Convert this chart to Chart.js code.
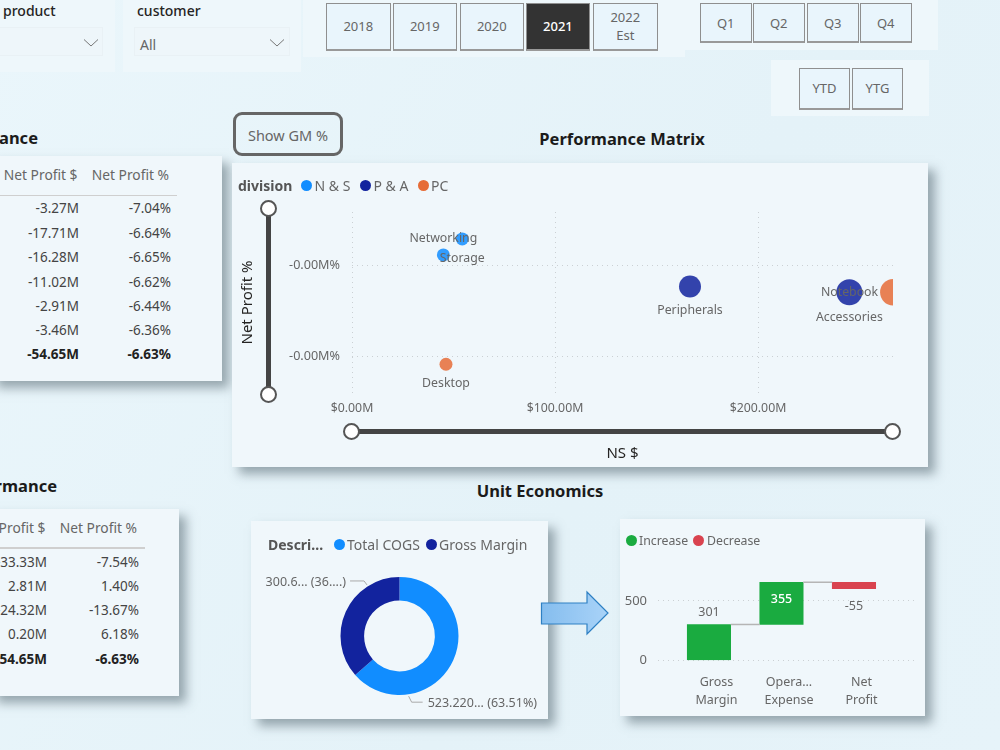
<!DOCTYPE html>
<html><head><meta charset="utf-8">
<script src="https://cdn.jsdelivr.net/npm/chart.js@4/dist/chart.umd.js"></script>
<style>
html,body{margin:0;padding:0;background:#E6F3F9;}
#page{position:relative;width:1000px;height:750px;overflow:hidden;background:linear-gradient(120deg,#EAF6FB 0%,#E4F2F8 60%,#E6F3F9 100%);font-family:"Noto Sans",sans-serif;color:#666;}
.box{position:absolute;box-sizing:border-box;}
.panel{background:#F0F7FB;box-shadow:7px 7px 10px rgba(70,90,100,.5);}
.slicer{background:#EEF7FB;}
.btn{position:absolute;box-sizing:border-box;border:1.5px solid #8f8f8f;border-bottom:2px solid #999;background:#E9F5FC;color:#666;font-size:13px;display:flex;align-items:center;justify-content:center;text-align:center;line-height:18px;}
.btn.on{background:#333;color:#fff;font-weight:500;}
.t{position:absolute;white-space:nowrap;line-height:1;}
.dot{position:absolute;border-radius:50%;}
canvas{position:absolute;display:block;}
.knob{position:absolute;box-sizing:border-box;width:17px;height:17px;border-radius:50%;background:#fff;border:2.5px solid #555;}
.rail{position:absolute;background:#444;}
</style></head>
<body><div id="page"></div>
<script>
// ---------- data ----------
const yearButtons = ['2018','2019','2020','2021','2022\nEst'];
const quarterButtons = ['Q1','Q2','Q3','Q4'];
const periodButtons = ['YTD','YTG'];

const divisions = ['N & S','P & A','PC'];
const products = ['Networking','Storage','Desktop','Peripherals','Accessories','Notebook'];
const productDivision = ['N & S','N & S','PC','P & A','P & A','PC'];
const netSalesM = [45,54.3,46.3,166.5,245,266.7];
const netProfitShare = [-0.0441,-0.0353,-0.1042,-0.0615,-0.0646,-0.0646];
const bubbleMeasure = [42,42,42,121,169,177];
const xTickValues = [0,100,200];
const xTickLabels = ['$0.00M','$100.00M','$200.00M'];
const yTickValues = [-0.05,-0.10];
const yTickLabels = ['-0.00M%','-0.00M%'];

const donutLabels = ['Total COGS','Gross Margin'];
const donutValues = [523.22,300.6];
const donutText = ['523.220... (63.51%)','300.6... (36....)'];

const waterfallCategories = ['Gross Margin','Opera... Expense','Net Profit'];
const waterfallTickLines = [['Gross','Margin'],['Opera...','Expense'],['Net','Profit']];
const waterfallDeltas = [301,355,-55];
const waterfallYTicks = [0,500];

const table1Header = ['Net Profit $','Net Profit %'];
const table1Dollar = ['-3.27M','-17.71M','-16.28M','-11.02M','-2.91M','-3.46M','-54.65M'];
const table1Pct = ['-7.04%','-6.64%','-6.65%','-6.62%','-6.44%','-6.36%','-6.63%'];
const table2Header = ['Net Profit $','Net Profit %'];
const table2Dollar = ['-33.33M','2.81M','-24.32M','0.20M','-54.65M'];
const table2Pct = ['-7.54%','1.40%','-13.67%','6.18%','-6.63%'];

// ---------- styles ----------
const FONT = '"Noto Sans", sans-serif';
const divisionColor = {'N & S':'#118DFF','P & A':'#12239E','PC':'#E66C37'};
const alpha = {'N & S':'rgba(17,141,255,.85)','P & A':'rgba(18,35,158,.85)','PC':'rgba(230,108,55,.85)'};
const labelPlacement = {Networking:'above',Storage:'below',Desktop:'below',Peripherals:'below',Accessories:'below',Notebook:'left'};

// ---------- page helpers ----------
const page = document.getElementById('page');
function box(cls,x,y,w,h,css){const d=document.createElement('div');d.className=cls;Object.assign(d.style,{left:x+'px',top:y+'px',width:w+'px',height:h+'px'},css||{});page.appendChild(d);return d;}
function text(str,x,cy,o){o=o||{};const d=document.createElement('div');d.className='t';d.textContent=str;
  const tx={l:'0',c:'-50%',r:'-100%'}[o.a||'l'];
  Object.assign(d.style,{left:x+'px',top:(cy+0.7)+'px',fontSize:(o.s||13)+'px',color:o.c||'#666',fontWeight:o.w||400,transform:`translate(${tx},-50%)`+(o.rot?` rotate(${o.rot}deg)`:'')});
  page.appendChild(d);return d;}
function chevron(cx,cy){const s=document.createElementNS('http://www.w3.org/2000/svg','svg');s.setAttribute('width','18');s.setAttribute('height','10');s.style.cssText=`position:absolute;left:${cx-9}px;top:${cy-5}px`;s.innerHTML='<path d="M2 1.5 L9 8 L16 1.5" fill="none" stroke="#777" stroke-width="1"/>';page.appendChild(s);}
function legend(items,y){items.forEach(i=>{ if(i.color) box('dot',i.x-5.5,y-5.5,11,11,{background:i.color}); text(i.label,i.tx,y,{s:i.s||14,c:i.c||'#666',w:i.w});});}
function table(hdr,dollar,pct,o){
  text(hdr[0],o.c1-1.5,o.hy,{a:'r',s:13.8,c:'#666'});
  text(hdr[1],o.c2-2,o.hy,{a:'r',s:13.8,c:'#666'});
  box('box',0,o.ly,o.lx,1.5,{background:'#CFCFCF'});
  dollar.forEach((v,i)=>{const b=i===dollar.length-1;const y=o.rows[i];
    text(v,o.c1,y,{a:'r',s:13.5,c:b?'#222':'#444',w:b?700:400});
    text(pct[i],o.c2,y,{a:'r',s:13.5,c:b?'#222':'#444',w:b?700:400});});
}

// ---------- slicers and buttons ----------
box('box slicer',-5,0,120,72);
box('box slicer',123,0,178,72);
box('box slicer',303,0,382,57);
box('box slicer',685,0,253,50);
box('box slicer',771,60,158,56);
text('product',3,10,{s:14,c:'#252423',w:500});
text('customer',137,10,{s:14,c:'#252423',w:500});
box('box',-5,27,108,29,{background:'#EEF6FA',border:'1px solid #E9F1F5'});
box('box',134,27,156,29,{background:'#EEF6FA',border:'1px solid #E9F1F5'});
text('All',140,44,{s:14,c:'#666'});
chevron(91,43);chevron(277,43);
const yearX=[326,392.5,459.5,525.7,593];
yearButtons.forEach((b,i)=>{const d=box('btn'+(b==='2021'?' on':''),yearX[i],3,64.5,47.5);d.innerText=b;});
const qX=[700,753,807,860];
quarterButtons.forEach((b,i)=>{const d=box('btn',qX[i],3,51.5,40);d.textContent=b;});
const pX=[799,852];
periodButtons.forEach((b,i)=>{const d=box('btn',pX[i],68,51,41.5);d.textContent=b;});
box('box',233,112,110,44,{border:'3px solid #666',borderRadius:'9px'});
text('Show GM %',288,134.5,{a:'c',s:14.5,c:'#666'});

// ---------- titles ----------
text('ance',38,137.5,{a:'r',s:16.5,c:'#1b1b1b',w:700});
text('rmance',57,485.5,{a:'r',s:16.5,c:'#1b1b1b',w:700});
text('Performance Matrix',622,138.5,{a:'c',s:16.5,c:'#1b1b1b',w:700});
text('Unit Economics',540,490.5,{a:'c',s:16.5,c:'#1b1b1b',w:700});

// ---------- tables ----------
box('box panel',-10,156,232,225);
box('box panel',-10,509,189,187);
table(table1Header,table1Dollar,table1Pct,{c1:79,c2:171,hy:174.5,ly:194.5,lx:177,rows:[208,233,257.5,282,306.5,330,354.5]});
table(table2Header,table2Dollar,table2Pct,{c1:47,c2:139,hy:527.5,ly:547,lx:145,rows:[562,586,610,634,659]});

// ---------- scatter panel ----------
box('box panel',232,163,696,304);
const cv1=document.createElement('canvas');cv1.width=696;cv1.height=304;cv1.style.cssText='left:232px;top:163px;width:696px;height:304px';page.appendChild(cv1);
text('division',238,185,{s:14,c:'#555',w:700});
legend([{label:divisions[0],x:306.7,tx:314.5,color:divisionColor[divisions[0]]},{label:divisions[1],x:365,tx:373.5,color:divisionColor[divisions[1]]},{label:divisions[2],x:423,tx:431,color:divisionColor[divisions[2]]}],185.5);
box('rail',266,208,4.5,186);
box('knob',259.5,200,17,17);
box('knob',259.5,385.5,17,17);
box('rail',351,429,542,4.5);
box('knob',342.5,422.5,17,17);
box('knob',884,422.5,17,17);

const bubbleLabels={id:'bubbleLabels',afterDatasetsDraw(chart){
  const c=chart.ctx;c.save();c.font='12.3px '+FONT;c.fillStyle='#666';c.textBaseline='middle';
  chart.data.datasets.forEach((ds,di)=>{const meta=chart.getDatasetMeta(di);
    meta.data.forEach((el,i)=>{const name=ds.names[i],r=ds.data[i].r,p=labelPlacement[name];
      const gap={above:-(r+9.5),below:r+12.7}[p];
      if(p==='left'){c.textAlign='right';c.fillText(name,el.x-r-2,el.y+0.7);}
      else{c.textAlign='center';c.fillText(name,el.x,el.y+gap);}
    });});
  c.restore();}};
new Chart(cv1,{type:'bubble',
  data:{datasets:divisions.map(d=>{const idx=products.map((_,i)=>i).filter(i=>productDivision[i]===d);
    return {label:d,names:idx.map(i=>products[i]),clip:0,
      data:idx.map(i=>({x:netSalesM[i],y:netProfitShare[i],r:Math.sqrt(bubbleMeasure[i])})),
      backgroundColor:alpha[d],borderWidth:0};})},
  options:{responsive:false,animation:false,
    layout:{padding:{top:49,right:35,left:0,bottom:0}},
    plugins:{legend:{display:false},tooltip:{enabled:false}},
    scales:{
      x:{type:'linear',min:0,max:266.5,
        afterBuildTicks:s=>{s.ticks=xTickValues.map(v=>({value:v}));},
        afterFit:s=>{s.height=74;},
        grid:{color:'rgba(120,120,120,.3)',drawTicks:false},
        border:{display:false,dash:[1,4]},
        ticks:{padding:8,autoSkip:false,maxRotation:0,color:'#666',font:{family:FONT,size:12.3},callback:(v,i)=>xTickLabels[i]},
        title:{display:true,text:'NS $',color:'#252423',font:{family:FONT,size:15},padding:{top:0,bottom:4}}},
      y:{type:'linear',min:-0.12,max:-0.0205,
        afterBuildTicks:s=>{s.ticks=yTickValues.map(v=>({value:v}));},
        afterFit:s=>{s.width=120;},
        grid:{color:'rgba(120,120,120,.3)',drawTicks:false},
        border:{display:false,dash:[1,4]},
        ticks:{padding:12,color:'#666',font:{family:FONT,size:12.6},callback:(v,i)=>yTickLabels[i]},
        title:{display:true,text:'Net Profit %',color:'#252423',font:{family:FONT,size:15},padding:{top:7,bottom:0}}}
    }},plugins:[bubbleLabels]});

// ---------- doughnut panel ----------
box('box panel',251,521,297,198);
const cv2=document.createElement('canvas');cv2.width=297;cv2.height=198;cv2.style.cssText='left:251px;top:521px;width:297px;height:198px';page.appendChild(cv2);
text('Descri...',268,544,{s:14,c:'#555',w:700});
legend([{label:donutLabels[0],x:339,tx:347,color:'#118DFF'},{label:donutLabels[1],x:431,tx:439,color:'#12239E'}],544);

const donutCallouts={id:'donutCallouts',afterDatasetsDraw(chart){
  const c=chart.ctx,a=chart.getDatasetMeta(0).data[0],o=a.getProps(['x','y']);
  const R=a.outerRadius;c.save();c.font='12.5px '+FONT;c.fillStyle='#666';c.strokeStyle='#A9A9A9';c.lineWidth=1;c.textBaseline='middle';
  // lower-right callout, anchored on the ring
  const ax=o.x+R*0.155,ay=o.y+R*1.02;
  c.beginPath();c.moveTo(ax,ay);c.lineTo(ax+3,ay+6);c.lineTo(ax+14,ay+6);c.stroke();
  c.textAlign='left';c.fillText(donutText[0],ax+19,ay+7);
  // upper-left callout
  const bx=o.x-R*0.55,by=o.y-R*0.865;
  c.beginPath();c.moveTo(bx,by);c.lineTo(bx-3,by-4);c.lineTo(bx-17,by-4);c.stroke();
  c.textAlign='right';c.fillText(donutText[1],bx-21,by-2.5);
  c.restore();}};
new Chart(cv2,{type:'doughnut',
  data:{labels:donutLabels,datasets:[{data:donutValues,backgroundColor:['#118DFF','#12239E'],borderWidth:0}]},
  options:{responsive:false,animation:false,cutout:'60%',
    layout:{padding:{top:56,bottom:24,left:0,right:0}},
    plugins:{legend:{display:false},tooltip:{enabled:false}}},plugins:[donutCallouts]});

// ---------- arrow ----------
const arrow=document.createElementNS('http://www.w3.org/2000/svg','svg');
arrow.setAttribute('width','80');arrow.setAttribute('height','60');
arrow.style.cssText='position:absolute;left:535px;top:585px';
arrow.innerHTML='<defs><linearGradient id="ag" x1="0" x2="1" y1="0" y2="0"><stop offset="0" stop-color="#85BDEE"/><stop offset="1" stop-color="#A9D3F8"/></linearGradient></defs><path d="M6.5 18 H52 V7 L73 28 L52 49 V39 H6.5 Z" fill="url(#ag)" stroke="#2E80C4" stroke-width="1.2"/>';
page.appendChild(arrow);

// ---------- waterfall panel ----------
box('box panel',620,519,305,197);
const cv3=document.createElement('canvas');cv3.width=305;cv3.height=197;cv3.style.cssText='left:620px;top:519px;width:305px;height:197px';page.appendChild(cv3);
legend([{label:'Increase',x:631.5,tx:639,color:'#1AAB40',s:12.3},{label:'Decrease',x:698.5,tx:707,color:'#D9434F',s:12.3}],540);

let running=0;
const floats=waterfallDeltas.map((d,i)=>{const a=running;running+=d;return {x:i,y:[a,running]};});
const waterfallDecor={id:'waterfallDecor',afterDatasetsDraw(chart){
  const c=chart.ctx,meta=chart.getDatasetMeta(0),ys=chart.scales.y;c.save();
  c.strokeStyle='#B5B5B5';c.lineWidth=1.5;
  floats.forEach((f,i)=>{if(i===floats.length-1)return;const el=meta.data[i],nx=meta.data[i+1];const y=ys.getPixelForValue(f.y[1]);
    c.beginPath();c.moveTo(el.x+el.width/2,y);c.lineTo(nx.x-nx.width/2,y);c.stroke();});
  c.font='12.5px '+FONT;c.textAlign='center';c.textBaseline='middle';
  waterfallDeltas.forEach((d,i)=>{const el=meta.data[i],top=ys.getPixelForValue(Math.max(...floats[i].y)),bot=ys.getPixelForValue(Math.min(...floats[i].y));
    if(i===0){c.fillStyle='#666';c.fillText(String(d),el.x,top-12.5);}
    else if(d>0){c.fillStyle='#fff';c.font='500 12.5px '+FONT;c.fillText(String(d),el.x,top+17);c.font='12.5px '+FONT;}
    else{c.fillStyle='#666';c.fillText(String(d),el.x,bot+17.5);}
  });
  c.restore();}};
new Chart(cv3,{type:'bar',
  data:{labels:waterfallCategories,datasets:[{data:floats,barThickness:43.4,borderSkipped:false,borderWidth:0,
    backgroundColor:waterfallDeltas.map(d=>d>=0?'#1AAB40':'#D9434F')}]},
  options:{responsive:false,animation:false,
    layout:{padding:{top:58,right:7,left:0,bottom:0}},
    plugins:{legend:{display:false},tooltip:{enabled:false}},
    scales:{
      x:{type:'linear',offset:false,min:-0.703,max:2.883,
        afterBuildTicks:s=>{s.ticks=waterfallCategories.map((_,i)=>({value:i}));},
        afterFit:s=>{s.height=197-141.3;},
        grid:{display:false},border:{display:false},
        ticks:{autoSkip:false,maxRotation:0,padding:5,labelOffset:7.5,color:'#666',font:{family:FONT,size:12.5,lineHeight:1.45},callback:(v,i)=>waterfallTickLines[i]}},
      y:{type:'linear',min:0,max:700,
        afterBuildTicks:s=>{s.ticks=waterfallYTicks.map(v=>({value:v}));},
        afterFit:s=>{s.width=38;},
        grid:{color:'rgba(120,120,120,.3)',drawTicks:false},
        border:{display:false,dash:[1,4]},
        ticks:{padding:11,color:'#666',font:{family:FONT,size:13}}}
    }},plugins:[waterfallDecor]});
</script></body></html>
